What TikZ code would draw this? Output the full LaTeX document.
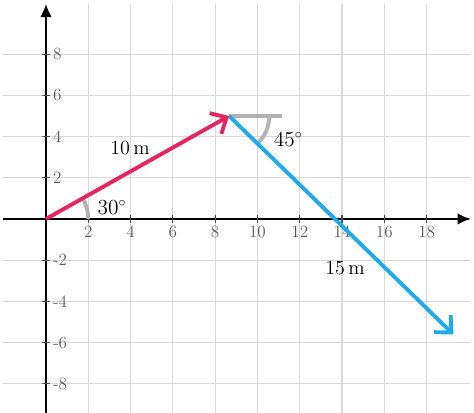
\documentclass[tikz,border=0pt]{standalone}
\usepackage{tikz}
\usetikzlibrary{arrows.meta, calc}
\definecolor{vecred}{RGB}{230,36,94}
\definecolor{vecblue}{RGB}{30,170,236}
\tikzset{
    x=0.5cm, y=0.487cm, % grid cells are a little wider than tall
    gridline/.style={gray!30, line width=0.8pt},
    axis/.style={ % the two black axes
        line width=1.9pt,
        -{Latex[length=3.2mm, width=2.8mm]}
    },
    tickmark/.style={black!70, line width=0.8pt},
    ticklabel/.style={text=black!65, font=\fontsize{11.5}{14}\selectfont, inner sep=1.5pt},
    vector/.style={ % displacement arrows
        line width=2.6pt,
        -{Straight Barb[length=3mm, width=5.6mm, line width=2.6pt]}
    },
    anglemark/.style={gray!60, line width=2.6pt},
    veclabel/.style={font=\fontsize{13.5}{16}\selectfont, inner sep=1pt},
}

\begin{document}
\begin{tikzpicture}
    \useasboundingbox (-2.175,-9.42) rectangle (20.24,10.63);
    % grid
    \foreach \x in {2,4,...,18}
        \draw[gridline] (\x,-9.42) -- (\x,10.45);
    \foreach \y in {-8,-6,...,8}
        \draw[gridline] (-2.05,\y) -- (20.05,\y);
    % axes
    \draw[axis] (-2.05,0) -- (20.1,0);
    \draw[axis] (0,-9.42) -- (0,10.45);
    \foreach \x in {2,4,...,18}
        \draw[tickmark] (\x,0.2) -- (\x,-0.2) node[ticklabel, below] {\x};
    \foreach \y in {-8,-6,-4,-2,2,4,6,8}
        \draw[tickmark] (-0.2,\y) -- (0.2,\y) node[ticklabel, right] {\y};

    \coordinate (O) at (0,0);
    \coordinate (P) at (8.66,5);
    \coordinate (Q) at (19.27,-5.61);
    \coordinate (H) at ($(P)+(2.5,0)$);

    % angle marks
    \draw[anglemark] (2,0) arc[start angle=0, end angle=30, radius=2];
    \draw[anglemark] (P) -- (H);
    \draw[anglemark] ($(P)+(1.9,0)$) arc[start angle=0, end angle=-45, radius=1.9];

    % vectors
    \draw[vector, vecblue] (P) -- (Q);
    \draw[vector, vecred]  (O) -- (P);

    \node[veclabel] (len1) at (3.97,3.45)  {10\,m};
    \node[veclabel] (len2) at (14.14,-2.38) {15\,m};
    \node[veclabel] (ang1) at (3.12,0.55)  {$30^{\circ}$};
    \node[veclabel] (ang2) at (11.45,3.85) {$45^{\circ}$};
\end{tikzpicture}
\end{document}
